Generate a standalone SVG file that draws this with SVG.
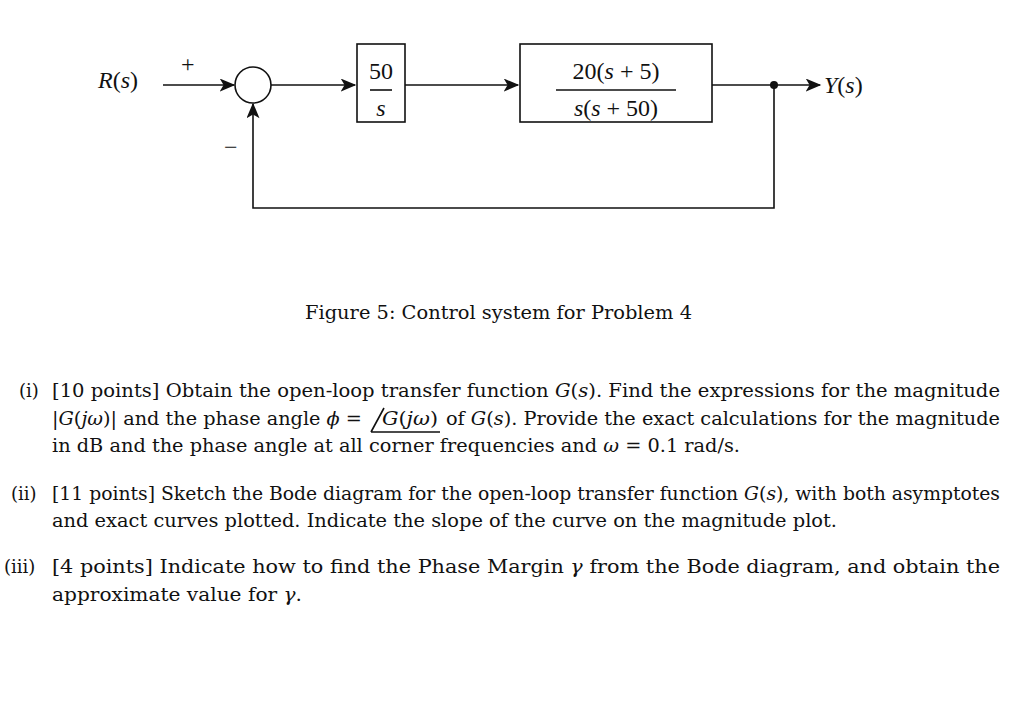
<svg xmlns="http://www.w3.org/2000/svg" width="1024" height="722" viewBox="0 0 1024 722">
<style>
text{font-family:"DejaVu Serif","Liberation Serif",serif;font-size:18px;fill:#111}
.m{font-style:italic}
.b{font-family:"Liberation Serif","DejaVu Serif",serif;font-size:24px}
.ln{stroke:#111;stroke-width:1.6;fill:none}
</style>
<defs><marker id="a" viewBox="0 0 12 10" refX="11" refY="5" markerWidth="16" markerHeight="13" markerUnits="userSpaceOnUse" orient="auto"><path d="M0,0 L12,5 L0,10 L3,5 z" fill="#111"/></marker></defs>
<rect width="1024" height="722" fill="#fff"/>
<g id="connectors" class="ln">
<path d="M163,85 H234" marker-end="url(#a)"/>
<path d="M271,85 H355" marker-end="url(#a)"/>
<path d="M405,85 H518" marker-end="url(#a)"/>
<path d="M712,85 H820" marker-end="url(#a)"/>
<path d="M774,85 V208 H253 V104" marker-end="url(#a)"/>
</g>
<circle cx="774" cy="85" r="4" fill="#111"/>
<g id="sum"><circle cx="253" cy="85" r="18" class="ln"/></g>
<g id="labels">
<text x="98" y="88" class="b"><tspan class="m">R</tspan>(<tspan class="m">s</tspan>)</text>
<text x="181" y="72" class="b">+</text>
<text x="224" y="155" class="b">−</text>
<text x="824" y="93" class="b"><tspan class="m">Y</tspan>(<tspan class="m">s</tspan>)</text>
</g>
<g id="block1"><rect x="357" y="44" width="48" height="78" class="ln"/>
<text x="381" y="79" text-anchor="middle" class="b">50</text><path d="M370,90 H392" class="ln" stroke-width="1"/>
<text x="381" y="116" text-anchor="middle" class="b m">s</text></g>
<g id="block2"><rect x="520" y="44" width="192" height="78" class="ln"/>
<text x="616" y="79" text-anchor="middle" class="b">20(<tspan class="m">s</tspan> + 5)</text><path d="M556,90 H676" class="ln" stroke-width="1"/>
<text x="616" y="116" text-anchor="middle" class="b"><tspan class="m">s</tspan>(<tspan class="m">s</tspan> + 50)</text></g>
<text x="305" y="319" textLength="387" lengthAdjust="spacingAndGlyphs">Figure 5: Control system for Problem 4</text>
<text x="19" y="397">(i)</text>
<text x="52" y="397" textLength="948" lengthAdjust="spacingAndGlyphs">[10 points] Obtain the open-loop transfer function <tspan class="m">G</tspan>(<tspan class="m">s</tspan>). Find the expressions for the magnitude</text>
<text x="52" y="425" textLength="310" lengthAdjust="spacingAndGlyphs">|<tspan class="m">G</tspan>(<tspan class="m">jω</tspan>)| and the phase angle <tspan class="m">ϕ</tspan> =</text>
<text x="382" y="425" textLength="56" lengthAdjust="spacingAndGlyphs"><tspan class="m">G</tspan>(<tspan class="m">jω</tspan>)</text>
<text x="446" y="425" textLength="554" lengthAdjust="spacingAndGlyphs">of <tspan class="m">G</tspan>(<tspan class="m">s</tspan>). Provide the exact calculations for the magnitude</text>
<path d="M371,432 L384,408 M371,432 H440" class="ln" stroke-width="1"/>
<text x="52" y="452" textLength="688" lengthAdjust="spacingAndGlyphs">in dB and the phase angle at all corner frequencies and <tspan class="m">ω</tspan> = 0.1 rad/s.</text>
<text x="11" y="500">(ii)</text>
<text x="52" y="500" textLength="948" lengthAdjust="spacingAndGlyphs">[11 points] Sketch the Bode diagram for the open-loop transfer function <tspan class="m">G</tspan>(<tspan class="m">s</tspan>), with both asymptotes</text>
<text x="52" y="527" textLength="785" lengthAdjust="spacingAndGlyphs">and exact curves plotted. Indicate the slope of the curve on the magnitude plot.</text>
<text x="4" y="573">(iii)</text>
<text x="52" y="573" textLength="948" lengthAdjust="spacingAndGlyphs">[4 points] Indicate how to find the Phase Margin <tspan class="m">γ</tspan> from the Bode diagram, and obtain the</text>
<text x="52" y="601" textLength="250" lengthAdjust="spacingAndGlyphs">approximate value for <tspan class="m">γ</tspan>.</text>
</svg>
